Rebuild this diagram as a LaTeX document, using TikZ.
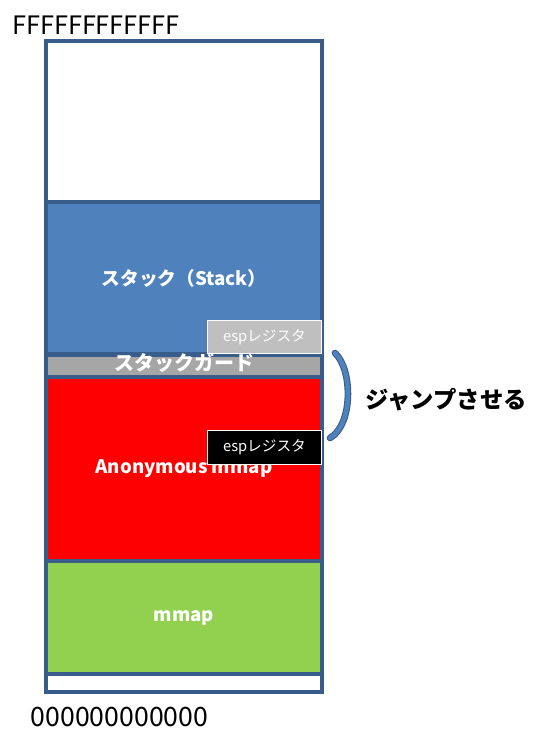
\documentclass[tikz,border=0pt]{standalone}
\usepackage{fontspec}
\setmainfont{Noto Sans CJK JP}
\usepackage{tikz}
\usetikzlibrary{calc}
\usetikzlibrary{arrows,shapes,positioning}
\tikzset{>=stealth}
\definecolor{edgeblue}{RGB}{56,93,138}
\definecolor{stackblue}{RGB}{79,129,189}
\definecolor{guardgray}{RGB}{166,166,166}
\definecolor{espgray}{RGB}{191,191,191}
\definecolor{mmapgreen}{RGB}{146,208,80}
\tikzset{
  seg/.style={draw=edgeblue,line width=2.4pt,minimum width=207pt,inner sep=0pt,
    text=white,font=\fontsize{14}{16}\selectfont\bfseries},
  espreg/.style={draw=white,line width=0.8pt,minimum width=86pt,minimum height=25pt,
    inner sep=0pt,text=white,font=\fontsize{11}{12}\selectfont},
  addr/.style={font=\fontsize{19}{20}\selectfont,inner sep=0pt}
}

\begin{document}
\begin{tikzpicture} [x=0.75pt,y=-0.75pt]
\useasboundingbox (0,0) rectangle (540,746);
% memory blocks, top to bottom
\node[seg,fill=white,minimum height=120.75pt] (free) at (184,121.5) {};
\node[seg,fill=stackblue,minimum height=114pt] (stack) at (184,278) {スタック（Stack）};
\node[seg,fill=guardgray,minimum height=16.5pt,text height=9pt,text depth=2pt,
  font=\fontsize{15}{16}\selectfont\bfseries] (guard) at (184,366) {スタックガード};
\node[seg,fill=red,minimum height=138pt] (anon) at (184,469) {Anonymous mmap};
\node[seg,fill=mmapgreen,minimum height=84.75pt] (mmap) at (184,617.5) {mmap};
\node[seg,fill=white,minimum height=13.5pt] (low) at (184,683) {};
% esp register
\node[espreg,fill=espgray] (espold) at (264.5,337) {espレジスタ};
\node[espreg,fill=black] (espnew) at (264.5,447.5) {espレジスタ};
% jump
\draw[edgeblue,line width=5pt,line cap=round]
  (335,353) .. controls (353,370) and (353,425) .. (330,438);
\draw[stackblue,line width=3.4pt,line cap=round]
  (335,353) .. controls (353,370) and (353,425) .. (330,438);
\node[font=\fontsize{17.5}{18}\selectfont\bfseries,inner sep=0pt] (jump) at (446,400) {ジャンプさせる};
% addresses
\node[addr] (top) at (96,25) {FFFFFFFFFFFF};
\node[addr,font=\fontsize{20}{21}\selectfont] (bottom) at (119.5,717) {000000000000};
\end{tikzpicture}
\end{document}
